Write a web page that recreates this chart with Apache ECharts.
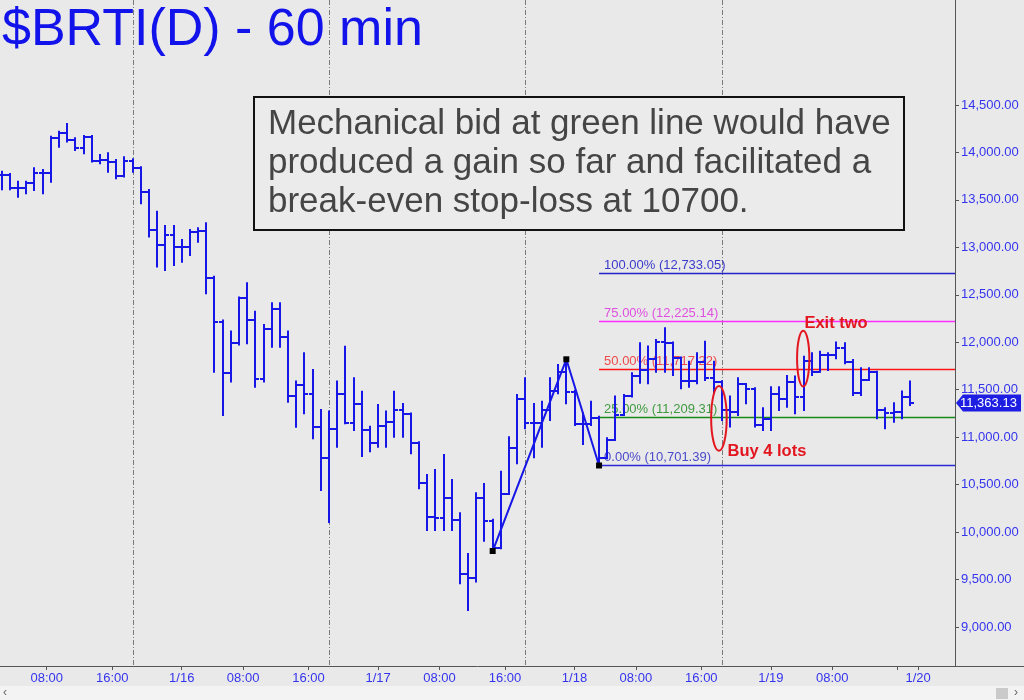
<!DOCTYPE html>
<html><head><meta charset="utf-8">
<script src="https://cdn.jsdelivr.net/npm/echarts@6/dist/echarts.min.js"></script>
<style>html,body{margin:0;padding:0;background:#e9e9e9}#c{width:1024px;height:700px}</style>
</head><body><div id="c"></div>
<script>
// ---- data ----
const firstBarHour = 2.5; // hours after 1/15 00:00 of first visible bar (hourly bars)
const opens  = [13762,13762,13622,13622,13682,13787,13787,14149,14201,14131,14043,14166,13910,13921,13903,13752,13913,13833,13587,13183,13025,13130,13007,13007,13165,13176,12674,12217,11673,11989,12463,12234,11609,12140,12350,12052,11434,11549,11455,11110,10780,11082,11455,11153,11346,11075,10935,11118,11163,11286,11240,10935,10521,10155,10145,10356,10127,9555,9513,10363,10120,9829,10401,10882,11399,11153,11153,11286,11490,11690,11479,11135,11135,11198,10777,10970,11234,11434,11645,11708,11820,12006,11989,11831,11595,11595,11795,11620,11585,11286,11269,11557,11504,11128,11188,11455,11402,11585,11427,11802,11690,11866,11866,11936,11795,11462,11602,11690,11286,11258,11269,11420];
const highs  = [13797,13773,13692,13692,13833,13815,14166,14219,14300,14149,14173,14173,13973,13991,13920,13949,13927,13845,13604,13376,13225,13225,13078,13183,13200,13253,12690,12230,12112,12470,12621,12322,12182,12410,12410,12112,11585,11883,11708,11286,11269,11585,11953,11620,11479,11110,11339,11269,11479,11350,11250,10945,10601,10654,10812,10549,10197,9769,10408,10507,10130,10636,10998,11444,11620,11349,11374,11620,11760,11820,11490,11251,11374,11216,10988,11427,11444,11673,11989,11954,12024,12147,11996,11840,11795,11883,12006,11795,11590,11427,11620,11560,11514,11304,11525,11525,11645,11638,11848,11883,11901,11883,11996,11989,11813,11725,11725,11690,11304,11356,11480,11585];
const lows   = [13611,13611,13534,13569,13604,13569,13692,14061,14114,14026,13991,13903,13885,13797,13727,13745,13797,13464,13113,12797,12762,12814,12849,12919,13060,12516,11690,11233,11585,11975,11989,11532,11585,11953,11953,11374,11110,11251,10988,10443,10106,10900,11146,11075,10800,10850,10900,10900,11005,11005,10830,10461,10022,10022,10022,10022,9460,9179,9478,9909,9794,9829,10401,10724,11093,10787,10900,11181,11462,11356,11128,10928,11128,10701.39,10777,10970,11234,11427,11574,11567,11690,11690,11655,11515,11532,11567,11602,11462,11180,11111,11234,11356,11111,11075,11075,11286,11321,11251,11286,11655,11690,11708,11831,11778,11444,11444,11602,11198,11093,11163,11198,11339];
const closes = [13762,13622,13622,13682,13787,13787,14149,14201,14131,14043,14166,13910,13921,13903,13752,13913,13833,13587,13183,13025,13130,13007,13007,13165,13176,12674,12217,11673,11989,12463,12234,11609,12140,12350,12052,11434,11549,11455,11110,10780,11082,11455,11153,11346,11075,10935,11118,11163,11286,11240,10935,10521,10155,10145,10356,10127,9555,9513,10363,10120,9829,10401,10882,11399,11153,11153,11286,11490,11690,11479,11135,11135,11198,10777,10970,11234,11434,11645,11708,11820,12006,11989,11831,11595,11595,11795,11620,11585,11286,11269,11557,11504,11128,11188,11455,11402,11585,11427,11802,11690,11866,11866,11936,11795,11462,11602,11690,11286,11258,11269,11420,11363.13];

const xTickHours  = [8,16,24.5,32,40,48.5,56,64,72.5,80,88,96.5,104,112,114.5];
const xLabelHours = [8,16,24.5,32,40,48.5,56,64,72.5,80,88,96.5,104,114.5];
const xLabelTexts = ['08:00','16:00','1/16','08:00','16:00','1/17','08:00','16:00','1/18','08:00','16:00','1/19','08:00','1/20'];
const yTickValues = [9000,9500,10000,10500,11000,11500,12000,12500,13000,13500,14000,14500];
const daySeparatorHours = [18.5, 42.5, 66.5, 90.5];

const fibStartHour = 75.5;
const fibValues = [12733.05, 12225.14, 11717.22, 11209.31, 10701.39];
const fibLabels = ['100.00% (12,733.05)','75.00% (12,225.14)','50.00% (11,717.22)','25.00% (11,209.31)','0.00% (10,701.39)'];
const fibLineColors = ['#2323cc','#ff2cff','#ff1414','#188a18','#2a2ad8'];
const fibTextColors = ['#3a3acc','#e050e0','#ee4a4a','#3f9a3f','#4a4acc'];

const zigzagHours  = [62.5, 71.5, 75.5];
const zigzagValues = [9800, 11820, 10701.39];

const lastPrice = 11363.13;
const lastPriceText = '11,363.13';

// annotations (data-space bounds)
const ellipses = [
  {h0: 89.2, h1: 91.1, v0: 10857, v1: 11540},
  {h0: 99.7, h1: 101.2, v0: 11533, v1: 12122}
];
const notes = [
  {text: 'Buy 4 lots', h: 91.2, v: 10845},
  {text: 'Exit two', h: 100.6, v: 12193}
];

// ---- chart ----
const BAR = '#1616e6';
const X_MIN = 2.29, X_MAX = 119.0, Y_MIN = 8588.5, Y_MAX = 15606;
const ohlc = opens.map((o, i) => [firstBarHour + i, o, highs[i], lows[i], closes[i]]);
const fmtY = v => v.toLocaleString('en-US', {minimumFractionDigits: 2, maximumFractionDigits: 2});

const chart = echarts.init(document.getElementById('c'), null, {renderer: 'canvas'});
chart.setOption({
  animation: false,
  backgroundColor: '#e9e9e9',
  grid: {left: 0, right: 69, top: 0, bottom: 34},
  xAxis: {
    type: 'value', min: X_MIN, max: X_MAX,
    splitLine: {show: false},
    axisLine: {show: true, lineStyle: {color: '#555', width: 1}},
    axisTick: {show: true, customValues: xTickHours, length: 4, lineStyle: {color: '#555'}},
    axisLabel: {
      customValues: xLabelHours, color: '#3434ee', fontSize: 13, fontFamily: 'Arial', margin: 6,
      formatter: v => { const i = xLabelHours.findIndex(t => Math.abs(t - v) < 1e-6); return i >= 0 ? xLabelTexts[i] : ''; }
    }
  },
  yAxis: {
    type: 'value', position: 'right', min: Y_MIN, max: Y_MAX, scale: true,
    splitLine: {show: false},
    axisLine: {show: true, lineStyle: {color: '#555', width: 1}},
    axisTick: {show: true, customValues: yTickValues, length: 4, lineStyle: {color: '#555'}},
    axisLabel: {customValues: yTickValues, color: '#3434ee', fontSize: 13, fontFamily: 'Arial', margin: 6, formatter: fmtY}
  },
  series: [
    { // day separators
      type: 'custom', z: 1, silent: true,
      data: daySeparatorHours.map(h => [h]),
      encode: {x: 0},
      renderItem: (params, api) => {
        const x = Math.round(api.coord([api.value(0), Y_MIN])[0]) + 0.5;
        const cs = params.coordSys;
        return {type: 'line', shape: {x1: x, y1: cs.y, x2: x, y2: cs.y + cs.height},
          style: {stroke: '#7a7a7a', lineWidth: 1, lineDash: [5, 2, 1, 2]}};
      }
    },
    { // fib levels
      type: 'custom', z: 2, silent: true,
      data: fibValues.map((v, i) => [fibStartHour, v, i]),
      encode: {x: 0, y: 1},
      renderItem: (params, api) => {
        const i = api.value(2);
        const p = api.coord([api.value(0), api.value(1)]);
        const cs = params.coordSys;
        const y = Math.round(p[1]) + 0.5;
        return {type: 'group', children: [
          {type: 'line', shape: {x1: p[0], y1: y, x2: cs.x + cs.width, y2: y}, style: {stroke: fibLineColors[i], lineWidth: 1.5}},
          {type: 'text', x: p[0] + 5, y: y - 2, style: {text: fibLabels[i], fill: fibTextColors[i], font: '13px Arial', textVerticalAlign: 'bottom'}}
        ]};
      }
    },
    { // OHLC bars
      type: 'custom', z: 3,
      data: ohlc,
      encode: {x: 0, y: [1, 2, 3, 4]},
      renderItem: (params, api) => {
        const h = api.value(0);
        const pH = api.coord([h, api.value(2)]), pL = api.coord([h, api.value(3)]);
        const pO = api.coord([h, api.value(1)]), pC = api.coord([h, api.value(4)]);
        const x = Math.round(pH[0]);
        const st = {stroke: BAR, lineWidth: 2};
        return {type: 'group', children: [
          {type: 'line', shape: {x1: x, y1: pH[1] - 1, x2: x, y2: pL[1] + 1}, style: st},
          {type: 'line', shape: {x1: x - 4, y1: Math.round(pO[1]), x2: x, y2: Math.round(pO[1])}, style: st},
          {type: 'line', shape: {x1: x, y1: Math.round(pC[1]), x2: x + 4, y2: Math.round(pC[1])}, style: st}
        ]};
      }
    },
    { // zigzag
      type: 'line', z: 4,
      data: zigzagHours.map((h, i) => [h, zigzagValues[i]]),
      lineStyle: {color: BAR, width: 2},
      itemStyle: {color: '#000'},
      symbol: 'rect', symbolSize: 6, showSymbol: true
    }
  ]
});

// ---- annotations anchored to data through the chart's scales ----
const px = (h, v) => chart.convertToPixel({gridIndex: 0}, [h, v]);
const graphics = [];
graphics.push({type: 'text', x: 2, y: 5, z: 10, style: {text: '$BRTI(D) - 60 min', font: '52px Arial', fill: '#1212ea'}});
graphics.push({type: 'rect', z: 10, shape: {x: 254, y: 97, width: 650, height: 133}, style: {fill: '#ebebeb', stroke: '#111', lineWidth: 2}});
graphics.push({type: 'text', x: 268, y: 105, z: 11, style: {
  text: 'Mechanical bid at green line would have\nproduced a gain so far and facilitated a\nbreak-even stop-loss at 10700.',
  font: '35px Arial', fill: '#454545', lineHeight: 39}});
ellipses.forEach(e => {
  const a = px(e.h0, e.v1), b = px(e.h1, e.v0);
  graphics.push({type: 'ellipse', z: 12, shape: {cx: (a[0] + b[0]) / 2, cy: (a[1] + b[1]) / 2, rx: (b[0] - a[0]) / 2, ry: (b[1] - a[1]) / 2},
    style: {fill: 'none', stroke: '#e3161f', lineWidth: 2}});
});
notes.forEach(n => {
  const p = px(n.h, n.v);
  graphics.push({type: 'text', z: 12, x: p[0], y: p[1], style: {text: n.text, font: 'bold 16.5px Arial', fill: '#e3161f', textVerticalAlign: 'middle'}});
});
const tp = px(X_MAX, lastPrice);
const ty = Math.round(tp[1]);
const ax = Math.round(tp[0]);
graphics.push({type: 'polygon', z: 13, shape: {points: [[ax + 1, ty], [ax + 8, ty - 8.5], [1021, ty - 8.5], [1021, ty + 8.5], [ax + 8, ty + 8.5]]}, style: {fill: '#1e1ee2'}});
graphics.push({type: 'text', z: 14, x: ax + 5, y: ty, style: {text: lastPriceText, font: '13px Arial', fill: '#fff', textVerticalAlign: 'middle'}});
// axis line continuation + scrollbar strip
graphics.push({type: 'line', z: 5, shape: {x1: ax, y1: 666.5, x2: 1024, y2: 666.5}, style: {stroke: '#555', lineWidth: 1}});
graphics.push({type: 'rect', z: 5, shape: {x: 0, y: 686, width: 1024, height: 14}, style: {fill: '#f3f3f3'}});
graphics.push({type: 'rect', z: 6, shape: {x: 996, y: 688, width: 12, height: 11}, style: {fill: '#cacaca'}});
graphics.push({type: 'text', z: 6, x: 3, y: 693, style: {text: '‹', font: '12px Arial', fill: '#666', textVerticalAlign: 'middle'}});
graphics.push({type: 'text', z: 6, x: 1014, y: 693, style: {text: '›', font: '12px Arial', fill: '#666', textVerticalAlign: 'middle'}});
chart.setOption({graphic: graphics});
</script>
</body></html>
